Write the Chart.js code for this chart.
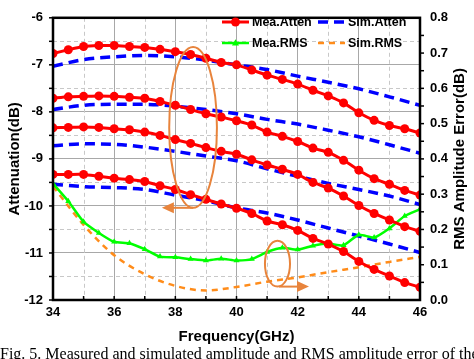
<!DOCTYPE html>
<html>
<head>
<meta charset="utf-8">
<script src="https://cdn.jsdelivr.net/npm/chart.js@4.4.1/dist/chart.umd.min.js"></script>
<style>
    html, body { margin: 0; padding: 0; background: #fff; overflow: hidden; }
    #wrap { width: 474px; height: 359px; }
</style>
</head>
<body>
<div id="wrap"><canvas id="attenChart" width="474" height="359"></canvas></div>
<script>
// measured points every 0.5 GHz
const freq = [34, 34.5, 35, 35.5, 36, 36.5, 37, 37.5, 38, 38.5, 39, 39.5, 40, 40.5, 41, 41.5, 42, 42.5, 43, 43.5, 44, 44.5, 45, 45.5, 46];
// simulated curves read every 1 GHz
const simFreq = [34, 35, 36, 37, 38, 39, 40, 41, 42, 43, 44, 45, 46];

const meaAtten0 = [-6.76, -6.68, -6.61, -6.59, -6.59, -6.61, -6.63, -6.67, -6.72, -6.78, -6.86, -6.95, -7.00, -7.11, -7.22, -7.31, -7.41, -7.54, -7.66, -7.81, -8.02, -8.18, -8.29, -8.36, -8.45];
const meaAtten1 = [-7.71, -7.68, -7.67, -7.66, -7.67, -7.69, -7.71, -7.78, -7.86, -7.95, -8.04, -8.11, -8.19, -8.28, -8.43, -8.52, -8.63, -8.77, -8.86, -9.03, -9.24, -9.42, -9.54, -9.67, -9.77];
const meaAtten2 = [-8.34, -8.33, -8.32, -8.33, -8.36, -8.38, -8.43, -8.50, -8.59, -8.67, -8.76, -8.84, -8.90, -9.02, -9.13, -9.22, -9.33, -9.50, -9.62, -9.79, -9.99, -10.16, -10.30, -10.44, -10.54];
const meaAtten3 = [-9.33, -9.33, -9.33, -9.37, -9.41, -9.44, -9.48, -9.57, -9.65, -9.76, -9.86, -9.96, -10.05, -10.16, -10.32, -10.40, -10.52, -10.69, -10.81, -10.97, -11.18, -11.35, -11.49, -11.63, -11.73];

const simAtten0 = [-7.03, -6.89, -6.83, -6.80, -6.83, -6.90, -7.00, -7.10, -7.24, -7.37, -7.51, -7.68, -7.86];
const simAtten1 = [-7.95, -7.86, -7.84, -7.84, -7.88, -7.95, -8.04, -8.16, -8.26, -8.39, -8.53, -8.70, -8.88];
const simAtten2 = [-8.72, -8.68, -8.69, -8.75, -8.84, -8.94, -9.04, -9.21, -9.37, -9.52, -9.65, -9.79, -9.97];
const simAtten3 = [-9.54, -9.59, -9.61, -9.65, -9.77, -9.89, -10.04, -10.15, -10.30, -10.47, -10.64, -10.81, -10.99];

const meaRms = [0.33, 0.28, 0.222, 0.19, 0.165, 0.161, 0.144, 0.123, 0.121, 0.116, 0.112, 0.117, 0.112, 0.116, 0.136, 0.148, 0.143, 0.154, 0.160, 0.155, 0.185, 0.177, 0.203, 0.238, 0.257];
const simRms = [0.322, 0.213, 0.127, 0.073, 0.040, 0.027, 0.037, 0.052, 0.064, 0.079, 0.093, 0.108, 0.122];

const legendLabels = ['Mea.Atten', 'Sim.Atten', 'Mea.RMS', 'Sim.RMS'];
const caption = 'Fig. 5. Measured and simulated amplitude and RMS amplitude error of the';

const FONT = '"Liberation Sans", Arial, sans-serif';
const RED = '#ff0000', BLUE = '#0000ff', GREEN = '#00ff00', ORANGE = '#ff8c1a';
const NOTE = '#e8843c';

function pts(xs, ys) {
    return xs.map((x, i) => ({ x: x, y: ys[i] }));
}

function meaDataset(values) {
    return {
        label: legendLabels[0], data: pts(freq, values), yAxisID: 'y',
        borderColor: RED, backgroundColor: RED, borderWidth: 3,
        pointStyle: 'circle', pointRadius: 4.5, pointBorderWidth: 0, tension: 0.2
    };
}

function simDataset(values) {
    return {
        label: legendLabels[1], data: pts(simFreq, values), yAxisID: 'y',
        borderColor: BLUE, borderWidth: 3.5, borderDash: [10, 6],
        pointRadius: 0, cubicInterpolationMode: 'monotone'
    };
}

const datasets = [
    meaDataset(meaAtten0), meaDataset(meaAtten1), meaDataset(meaAtten2), meaDataset(meaAtten3),
    {
        label: legendLabels[2], data: pts(freq, meaRms), yAxisID: 'y1',
        borderColor: GREEN, backgroundColor: GREEN, borderWidth: 2.5,
        pointStyle: 'triangle', pointRadius: 3.5, pointBorderWidth: 0, tension: 0.2
    },
    simDataset(simAtten0), simDataset(simAtten1), simDataset(simAtten2), simDataset(simAtten3),
    {
        label: legendLabels[3], data: pts(simFreq, simRms), yAxisID: 'y1',
        borderColor: ORANGE, borderWidth: 2.5, borderDash: [6, 5],
        pointRadius: 0, cubicInterpolationMode: 'monotone'
    }
];

function line(ctx, x1, y1, x2, y2) {
    ctx.beginPath();
    ctx.moveTo(x1, y1);
    ctx.lineTo(x2, y2);
    ctx.stroke();
}

function marker(ctx, style, x, y, r, color) {
    ctx.save();
    ctx.fillStyle = color;
    ctx.setLineDash([]);
    ctx.beginPath();
    if (style === 'triangle') {
        ctx.moveTo(x, y - r * 1.1);
        ctx.lineTo(x + r, y + r * 0.7);
        ctx.lineTo(x - r, y + r * 0.7);
        ctx.closePath();
    } else {
        ctx.arc(x, y, r, 0, Math.PI * 2);
    }
    ctx.fill();
    ctx.restore();
}

// dashed minor grid, frame, tick marks, annotations, legend, caption
const decorPlugin = {
    id: 'decor',
    beforeDatasetsDraw(chart) {
        const { ctx, chartArea: a, scales: { x, y } } = chart;
        ctx.save();
        ctx.strokeStyle = '#c8c8c8';
        ctx.lineWidth = 1;
        ctx.setLineDash([4, 3]);
        for (let f = 35; f < 46; f += 2) {
            const px = Math.round(x.getPixelForValue(f)) + 0.5;
            line(ctx, px, a.top, px, a.bottom);
        }
        for (let v = -11.5; v < -6; v += 1) {
            const py = Math.round(y.getPixelForValue(v)) + 0.5;
            line(ctx, a.left, py, a.right, py);
        }
        ctx.restore();
    },
    afterDatasetsDraw(chart) {
        const { ctx, chartArea: a, scales: { x, y, y1 } } = chart;
        ctx.save();

        // frame
        ctx.strokeStyle = '#000';
        ctx.lineWidth = 2.5;
        ctx.strokeRect(a.left, a.top, a.right - a.left, a.bottom - a.top);

        // tick marks
        ctx.lineWidth = 1.5;
        for (let v = -12; v <= -5.99; v += 0.5) {
            const py = y.getPixelForValue(v);
            line(ctx, a.left, py, a.left - 4, py);
        }
        for (let f = 35; f < 46; f += 1) {
            const px = x.getPixelForValue(f);
            line(ctx, px, a.bottom, px, a.bottom - 4);
        }
        for (let r = 0.05; r < 0.8; r += 0.05) {
            const py = y1.getPixelForValue(r);
            line(ctx, a.right, py, a.right + 4, py);
        }

        // orange annotations (ellipses + arrows)
        ctx.strokeStyle = NOTE;
        ctx.fillStyle = NOTE;
        ctx.lineWidth = 2;
        const ell = (cx, cy, rx, ry) => {
            ctx.beginPath();
            ctx.ellipse(cx, cy, rx, ry, 0, 0, Math.PI * 2);
            ctx.stroke();
        };
        const arrow = (x1, x2, yy) => {
            const dir = Math.sign(x2 - x1);
            line(ctx, x1, yy, x2 - dir * 11, yy);
            ctx.beginPath();
            ctx.moveTo(x2, yy);
            ctx.lineTo(x2 - dir * 12, yy - 5.5);
            ctx.lineTo(x2 - dir * 12, yy + 5.5);
            ctx.closePath();
            ctx.fill();
        };
        const e1x = x.getPixelForValue(38.58), e1y = y.getPixelForValue(-8.33);
        ell(e1x, e1y, x.getPixelForValue(38.58 + 0.78) - e1x, y.getPixelForValue(-8.33 - 1.71) - e1y);
        arrow(e1x, x.getPixelForValue(37.56), y.getPixelForValue(-10.04));
        const e2x = x.getPixelForValue(41.34), e2y = y1.getPixelForValue(0.103);
        ell(e2x, e2y, x.getPixelForValue(41.34 + 0.41) - e2x, y1.getPixelForValue(0.103 - 0.065) - e2y);
        arrow(x.getPixelForValue(41.39), x.getPixelForValue(42.37), y1.getPixelForValue(0.038));

        // legend, 2 x 2 inside the plot
        const entries = [
            { ds: datasets[0], marker: 'circle', col: 0, row: 0 },
            { ds: datasets[5], marker: null, col: 1, row: 0 },
            { ds: datasets[4], marker: 'triangle', col: 0, row: 1 },
            { ds: datasets[9], marker: null, col: 1, row: 1 }
        ];
        const colX = [222, 318];
        const rowY = [22, 43];
        ctx.font = 'bold 12.5px ' + FONT;
        ctx.textBaseline = 'middle';
        ctx.textAlign = 'left';
        entries.forEach(e => {
            const x0 = colX[e.col], yy = rowY[e.row];
            ctx.strokeStyle = e.ds.borderColor;
            ctx.lineWidth = e.ds.borderWidth;
            ctx.setLineDash(e.ds.borderDash || []);
            line(ctx, x0, yy, x0 + 27, yy);
            ctx.setLineDash([]);
            if (e.marker) marker(ctx, e.marker, x0 + 13.5, yy, e.marker === 'circle' ? 4.5 : 3.5, e.ds.borderColor);
            ctx.fillStyle = '#000';
            ctx.fillText(e.ds.label, x0 + 30, yy + 0.5);
        });

        // right axis title reads bottom-to-top
        ctx.save();
        ctx.translate(460, (a.top + a.bottom) / 2);
        ctx.rotate(-Math.PI / 2);
        ctx.font = 'bold 15px ' + FONT;
        ctx.textAlign = 'center';
        ctx.textBaseline = 'middle';
        ctx.fillStyle = '#000';
        ctx.fillText('RMS Amplitude Error(dB)', 0, 0);
        ctx.restore();

        // figure caption (cut off by the bottom edge)
        ctx.font = '16px "Liberation Serif", "Times New Roman", serif';
        ctx.fillStyle = '#000';
        ctx.textAlign = 'left';
        ctx.textBaseline = 'alphabetic';
        ctx.fillText(caption, 0, 359);

        ctx.restore();
    }
};

const tickFont = { family: FONT, size: 13, weight: 'bold' };
const titleFont = { family: FONT, size: 15, weight: 'bold' };

new Chart(document.getElementById('attenChart').getContext('2d'), {
    type: 'line',
    data: { datasets: datasets },
    options: {
        responsive: false,
        devicePixelRatio: 1,
        animation: false,
        layout: { padding: { top: 6, left: 0, right: 0, bottom: 0 } },
        plugins: {
            legend: { display: false },
            tooltip: { enabled: false }
        },
        scales: {
            x: {
                type: 'linear', position: 'bottom', min: 34, max: 46,
                ticks: { stepSize: 2, color: '#000', font: tickFont, padding: 5, maxRotation: 0 },
                grid: { color: '#a8a8a8', lineWidth: 1, drawTicks: false },
                border: { display: false },
                title: { display: true, text: 'Frequency(GHz)', color: '#000', font: titleFont, padding: { top: 0, bottom: 13 } },
                afterFit: s => { s.height = 59; }
            },
            y: {
                type: 'linear', position: 'left', min: -12, max: -6,
                ticks: { stepSize: 1, color: '#000', font: tickFont, padding: 10 },
                grid: { color: '#a8a8a8', lineWidth: 1, drawTicks: false },
                border: { display: false },
                title: { display: true, text: 'Attenuation(dB)', color: '#000', font: titleFont, padding: { top: 6, bottom: 0 } },
                afterFit: s => { s.width = 53; }
            },
            y1: {
                type: 'linear', position: 'right', min: 0, max: 0.8,
                ticks: { stepSize: 0.1, color: '#000', font: tickFont, padding: 10, callback: v => v.toFixed(1) },
                grid: { drawOnChartArea: false, drawTicks: false },
                border: { display: false },
                afterFit: s => { s.width = 54; }
            }
        }
    },
    plugins: [decorPlugin]
});
</script>
</body>
</html>
